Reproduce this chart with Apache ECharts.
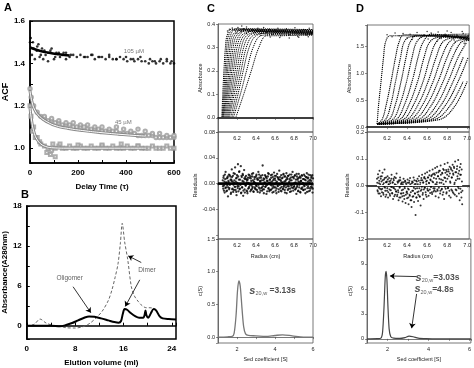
<!DOCTYPE html>
<html><head><meta charset="utf-8">
<script src="https://cdn.jsdelivr.net/npm/echarts@6/dist/echarts.min.js"></script>
<style>html,body{margin:0;padding:0;background:#fff}#c{width:474px;height:368px}</style>
</head><body><div id="c"></div>
<script>
const FONT = '"Liberation Sans", Arial, sans-serif';

// ---------- Panel A : ACF ----------
const delayTimes = [0,15,30,45,60,75,90,105,120,135,150,165,180,195,210,225,240,255,270,285,300,315,330,345,360,375,390,405,420,435,450,465,480,495,510,525,540,555,570,585,600];
const acf105 = [1.50,1.47,1.48,1.44,1.46,1.45,1.47,1.43,1.45,1.44,1.45,1.43,1.44,1.43,1.44,1.43,1.43,1.44,1.42,1.43,1.43,1.42,1.43,1.42,1.42,1.43,1.42,1.41,1.42,1.41,1.42,1.41,1.41,1.40,1.41,1.40,1.41,1.40,1.41,1.40,1.40];
const acf105Extra = [[3,1.52],[8,1.44],[12,1.50],[20,1.42],[28,1.46],[35,1.49],[40,1.43],[50,1.47],[55,1.42],[65,1.44],[75,1.41],[85,1.46],[100,1.42],[110,1.45],[125,1.43],[140,1.45],[150,1.42],[170,1.44],[230,1.43],[260,1.44],[290,1.43],[330,1.44],[360,1.42],[400,1.43],[430,1.42],[460,1.43],[500,1.42],[520,1.41],[545,1.42],[570,1.42],[590,1.41]];
const acf45 = [1.28,1.20,1.17,1.15,1.14,1.13,1.13,1.12,1.12,1.11,1.11,1.11,1.10,1.10,1.10,1.10,1.09,1.09,1.09,1.09,1.08,1.08,1.08,1.08,1.08,1.07,1.07,1.07,1.07,1.07,1.06,1.06,1.06,1.06,1.06,1.05,1.05,1.05,1.05,1.05,1.05];
const acf45Extra = [[5,1.24],[60,1.15],[90,1.14],[120,1.13],[150,1.12],[180,1.12],[210,1.11],[240,1.11],[270,1.10],[300,1.10],[330,1.09],[360,1.10],[390,1.09],[420,1.08],[450,1.09],[480,1.08],[510,1.07],[540,1.07],[570,1.06],[600,1.06]];
const acfLow = [1.20,1.10,1.05,1.02,1.01,1.00,0.99,1.00,1.01,1.00,1.00,1.01,1.00,1.00,1.01,1.00,1.00,1.01,1.00,1.00,1.01,1.00,1.00,1.01,1.00,1.00,1.00,1.01,1.00,1.00,1.01,1.00,1.00,1.00,1.01,1.00,1.00,1.00,1.01,1.00,1.00];
const acfLowExtra = [[4,1.15],[10,1.08],[22,1.05],[40,1.03],[70,0.98],[85,0.97],[95,1.02],[105,0.96],[125,1.02],[200,1.015],[300,1.015],[380,1.02],[450,1.01]];
const fit105 = [[0,1.475],[40,1.46],[80,1.45],[120,1.443],[165,1.437]];
const fit45 = [[0,1.27],[8,1.22],[20,1.18],[40,1.15],[70,1.125],[110,1.105],[160,1.093],[220,1.083],[300,1.073],[400,1.063],[480,1.057]];
const fitLow = [[0,1.19],[8,1.12],[18,1.07],[30,1.04],[45,1.02],[65,1.008],[90,1.002],[150,1.0],[480,1.0]];
const acfLabels = [{text:'105 \u00b5M', at:[433,1.459]},{text:'45 \u00b5M', at:[389,1.12]}];

// ---------- Panel B : elution ----------
const elutionSolid = [[0,0],[2,0],[4,0],[5.5,-0.1],[6.5,0.1],[7.5,0.4],[8.5,0.8],[9.5,1.2],[10.3,1.4],[11.2,1.35],[12.3,1.1],[13.5,0.8],[14.5,0.55],[15.2,0.45],[15.6,0.7],[15.9,1.8],[16.2,2.5],[16.6,2.4],[17.2,1.9],[18,1.4],[18.6,1.2],[19.3,1.2],[19.5,1.6],[19.65,2.3],[19.8,1.6],[20.1,1.2],[20.5,1.8],[21,2.5],[21.4,2.3],[22,1.4],[22.5,1.1],[23.5,1.0],[24.7,0.95]];
const elutionDashed = [[0,0],[1.2,0.2],[2.2,1.0],[3.2,0.4],[4.5,0],[5.5,-0.1],[6.5,-0.3],[8,-0.35],[9.5,-0.1],[10.5,0.4],[11.5,1.2],[12.5,2.2],[13.5,3.8],[14.1,5.4],[14.6,7.2],[15.1,9.3],[15.5,12.5],[15.8,15.4],[16.2,12.6],[16.7,10.0],[17.3,5.9],[17.8,4.5],[18.4,3.7],[19.1,3.0],[19.8,2.7],[20.4,2.7],[21.0,2.6],[21.4,2.4]];
const bLabels = [{text:'Oligomer', at:[7.1,7.1]},{text:'Dimer', at:[19.9,8.3]}];
const bArrows = [[[7.66,5.86],[10.6,1.95]],[[18.7,6.9],[16.3,2.9]],[[18.95,9.5],[16.8,10.5]]];

// ---------- Panel C ----------
const levelsC = [0.005,0.1,0.2,0.3,0.35];
const boundaryC = [
 [6.040,6.050,6.062,6.078,6.095,6.14],
 [6.045,6.060,6.075,6.092,6.110,6.16],
 [6.050,6.070,6.088,6.108,6.130,6.19],
 [6.055,6.080,6.100,6.125,6.150,6.22],
 [6.060,6.090,6.115,6.142,6.172,6.25],
 [6.070,6.100,6.130,6.160,6.195,6.28],
 [6.080,6.112,6.145,6.180,6.220,6.31],
 [6.090,6.125,6.162,6.200,6.245,6.34],
 [6.100,6.140,6.180,6.222,6.272,6.38],
 [6.110,6.155,6.200,6.245,6.300,6.42],
 [6.120,6.170,6.220,6.270,6.330,6.46],
 [6.135,6.190,6.242,6.298,6.365,6.50],
 [6.150,6.210,6.265,6.328,6.400,6.55],
 [6.165,6.235,6.300,6.370,6.450,6.60],
 [6.190,6.270,6.350,6.430,6.510,6.64]
];
const plateauC = [0.378,0.375,0.380,0.372,0.376,0.370,0.374,0.368,0.371,0.365,0.368,0.360,0.362,0.355,0.350];
const endC = [0.372,0.368,0.376,0.365,0.370,0.362,0.374,0.360,0.366,0.358,0.364,0.356,0.360,0.352,0.356];
const noiseC = [[6.12,0.378],[6.15,0.383],[6.18,0.372],[6.21,0.385],[6.24,0.368],[6.27,0.380],[6.30,0.387],[6.33,0.370],[6.36,0.377],[6.39,0.362],[6.42,0.382],[6.45,0.371],[6.48,0.385],[6.51,0.364],[6.54,0.378],[6.57,0.356],[6.60,0.375],[6.63,0.382],[6.66,0.350],[6.69,0.371],[6.72,0.380],[6.75,0.354],[6.78,0.373],[6.81,0.384],[6.84,0.347],[6.87,0.369],[6.90,0.377],[6.93,0.353],[6.96,0.382],[6.99,0.363],[6.55,0.345],[6.65,0.342],[6.75,0.340],[6.85,0.344],[6.95,0.346],[6.45,0.352],[6.30,0.360],[6.20,0.362],[6.10,0.370],[6.25,0.392]];
const residStartC = 6.05, residStartC2 = 6.0525, residStepC = 0.005;
const residC = [5,-8,12,-3,-14,7,18,-6,2,-11,9,-20,4,14,-7,-2,11,-16,6,22,-9,3,-13,16,1,-5,25,-10,8,-18,13,-4,30,-12,6,19,-8,-1,27,-14,10,-6,15,-19,3,21,-9,7,-3,12,-11,5,-15,9,1,-7,13,-2,-12,8,4,-9,11,-5,16,-13,2,7,-8,10,-3,14,-10,6,-1,18,-6,9,-14,3,12,-7,5,-11,28,-4,8,-9,1,13,-5,10,-16,4,-2,11,-8,15,-12,6,2,-10,9,-3,14,-7,5,-13,17,-1,8,-6,12,-15,3,10,-4,7,-9,20,-2,6,-11,13,-5,1,9,-8,15,-3,11,-14,4,-6,16,-1,7,-10,12,-4,3,14,-8,9,-12,5,-2,18,-7,10,-5,1,13,-9,6,-16,11,-3,8,-11,15,-6,2,-13,9,4,-8,12,-1,7,-10,14,-4,6,-15,10,-2,16,-7,3,9,-12,5,-1,13,-8,4,11,-6,-14,8];
const residC2 = [-4,9,-11,3,14,-7,1,-12,8,-3,11,-6,2,-9,13,-1,6,-14,4,10,-8,12,-2,-10,5,15,-5,3,-13,9,1,-7,11,-4,18,-9,6,-2,-15,12,-6,4,13,-11,0,8,-14,10,-3,7,2,-12,6,-8,14,-5,9,-1,11,-10,-3,15,-7,5,-12,3,10,-6,1,-9,12,-4,8,-13,6,-2,14,-8,4,-11,9,-1,-6,13,-9,5,-15,7,2,-5,11,-3,8,-12,4,16,-7,1,-10,6,-2,13,-9,3,-14,10,-4,7,-6,12,5,-11,1,-8,15,-3,9,-13,6,-1,10,-7,4,-12,8,2,-9,14,-5,3,-10,11,-2,6,-15,9,-4,12,-8,1,7,-13,5,-3,14,-6,10,-1,-11,8,-4,12,-9,2,-7,15,-5,6,-12,3,9,-2,11,-14,4,-8,13,-6,1,-10,7,-3,12,-9,5,-1,10,-13,8,-4,14,-7,2,-11,6,-5,9,-2,13,-8,3];
const cSC = [[1.0,0.0],[1.5,0.005],[1.75,0.01],[1.85,0.06],[1.95,0.33],[2.03,0.72],[2.1,0.86],[2.17,0.78],[2.26,0.45],[2.35,0.16],[2.45,0.05],[2.6,0.025],[3.0,0.02],[3.5,0.01],[4.0,0.025],[4.4,0.035],[4.9,0.02],[5.5,0.0],[6.0,0.0]];
const cLabels = [{main:'3.13s', at:[3.87,0.71]}];

// ---------- Panel D ----------
const levelsD = [0.06,0.14,0.4,0.85,1.3,1.58];
const boundaryD = [
 [6.100,6.104,6.115,6.140,6.165,6.185,6.23],
 [6.100,6.150,6.190,6.240,6.285,6.320,6.37],
 [6.100,6.185,6.235,6.285,6.335,6.370,6.43],
 [6.100,6.220,6.280,6.340,6.390,6.430,6.50],
 [6.100,6.255,6.325,6.395,6.450,6.495,6.57],
 [6.100,6.290,6.370,6.450,6.510,6.560,6.64],
 [6.100,6.325,6.415,6.505,6.570,6.625,6.71],
 [6.100,6.360,6.460,6.560,6.630,6.690,6.78],
 [6.100,6.395,6.505,6.610,6.690,6.755,6.85],
 [6.100,6.430,6.550,6.660,6.745,6.820,6.92],
 [6.100,6.470,6.595,6.710,6.800,6.880,6.98],
 [6.100,6.510,6.640,6.760,6.855,6.940,7.02],
 [6.100,6.550,6.690,6.810,6.910,6.995],
 [6.100,6.590,6.735,6.860,6.960],
 [6.100,6.630,6.780,6.910,7.010],
 [6.100,6.670,6.830,6.960],
 [6.100,6.720,6.880,7.000]
];
const plateauD = [1.70,1.72,1.68,1.71,1.69,1.73,1.67,1.70,1.66,1.68,1.64,1.62];
const endD = [1.69,1.66,1.73,1.64,1.70,1.62,1.68,1.65,1.67,1.63,1.65,1.63];
const noiseD = [[6.20,1.72],[6.25,1.68],[6.28,1.75],[6.32,1.70],[6.36,1.74],[6.40,1.66],[6.43,1.73],[6.47,1.69],[6.50,1.76],[6.54,1.67],[6.57,1.72],[6.61,1.64],[6.64,1.75],[6.68,1.70],[6.71,1.77],[6.74,1.65],[6.78,1.73],[6.81,1.68],[6.84,1.76],[6.87,1.62],[6.90,1.71],[6.93,1.66],[6.96,1.74],[6.99,1.63],[7.01,1.70],[6.60,1.78],[6.80,1.79],[6.95,1.78],[6.45,1.63],[6.70,1.60],[6.88,1.58],[6.97,1.56]];
const residStartD = 6.10, residStartD2 = 6.1025, residStepD = 0.005;
const residD = [25,-18,42,-30,8,55,-12,34,-40,15,-25,48,3,-35,22,60,-8,-42,30,12,-20,35,-45,5,28,-15,-38,18,-5,40,-28,10,-50,25,-10,32,-35,2,-22,45,-40,15,-18,-55,20,-8,30,-45,5,-30,12,-60,-15,25,-38,-5,18,-65,8,-25,-48,22,-12,-70,10,-35,28,-55,-2,-80,15,-42,-20,30,-62,5,-30,-110,18,-45,-10,25,-58,-22,35,-40,2,-75,20,-15,40,-35,10,-50,28,-8,45,-25,15,-42,50,-18,30,-38,8,55,-28,20,-5,38,-32,60,12,-22,45,-10,65,-40,25,5,70,-20,35,-45,55,10,-30,75,22,-15,48,-35,62,5,-50,80,28,-12,58,-25,40,85,-8,52,-38,70,15,-45,60,30,-20,78,45,-30,65,10,90,-15,50,-40,72,25,95,-10,55,-55,40,80,-25,60,-70];
const residD2 = [10,-22,30,-8,18,-30,5,25,-15,35,-12,20,-28,8,-5,28,-20,12,-35,15,-10,22,-25,3,15,-32,8,-18,25,-6,-30,12,-8,20,-40,5,-15,28,-22,0,-35,10,-25,15,-45,-5,20,-30,8,-18,-40,5,-28,12,-50,-10,15,-35,2,-22,-30,10,-45,-15,18,-38,5,-25,-55,8,-20,12,-40,-8,20,-30,-12,6,-45,15,-25,5,-35,18,-10,-42,10,-20,28,-5,20,-28,12,-15,32,-8,25,-35,5,18,-12,30,-20,10,38,-15,22,-5,35,-25,15,42,-10,28,-18,40,5,-22,48,12,-15,35,50,-8,25,55,-20,40,10,-12,45,20,-25,58,30,-5,48,15,-30,52,25,-10,60,35,-20,45,10,65,-15,30,55,-25,40,70,5,-35,50,20,-18,62,35,-5,45,-30,25,68,-12,40,-45,15,-20];
const cSD = [[1.0,0.0],[1.5,0.02],[1.68,0.08],[1.76,0.8],[1.83,3.8],[1.89,7.4],[1.93,8.1],[1.97,7.2],[2.02,4.0],[2.08,1.2],[2.16,0.25],[2.3,0.08],[2.6,0.05],[2.85,0.15],[3.05,0.32],[3.25,0.25],[3.5,0.08],[3.9,0.02],[4.5,0.0],[6.07,0.0]];
const dLabels = [{main:'3.03s', at:[4.44,7.36]},{main:'4.8s', at:[4.27,5.96]}];
const dArrows = [[[3.42,7.48],[2.12,7.56]],[[3.42,5.4],[3.18,1.28]]];

// ---------- helpers ----------
function fmt(step, dec, lo, hi) {
  return function (v) {
    const r = v / step, k = Math.round(r);
    if (Math.abs(r - k) > 1e-4) return '';
    if (lo != null && v < lo) return '';
    if (hi != null && v > hi) return '';
    return (k * step).toFixed(dec);
  };
}
const bigLbl = {fontSize:8, fontWeight:'bold', color:'#000', fontFamily:FONT};
const bigName = {fontSize:8, fontWeight:'bold', color:'#000', fontFamily:FONT};
const smLbl = {fontSize:5.5, color:'#222', fontFamily:FONT, margin:3};
const smName = {fontSize:5.5, color:'#222', fontFamily:FONT};
const noSplit = {show:false};
const CLEAR = 'rgba(0,0,0,0)';

const grids = [
  {left:23,top:21,width:151,height:142, show:true, borderColor:'#000', borderWidth:1.5},
  {left:23,top:206,width:153,height:137, show:true, borderColor:'#000', borderWidth:1.5},
  {left:218,top:24,width:95,height:108, show:true, borderColor:'#555', borderWidth:0.8},
  {left:218,top:132,width:95,height:107, show:true, borderColor:'#555', borderWidth:0.8},
  {left:218,top:239,width:95,height:104, show:true, borderColor:'#555', borderWidth:0.8},
  {left:367,top:25,width:104,height:107, show:true, borderColor:'#555', borderWidth:0.8},
  {left:367,top:132,width:104,height:107, show:true, borderColor:'#555', borderWidth:0.8},
  {left:367,top:239,width:104,height:104, show:true, borderColor:'#555', borderWidth:0.8}
];

function bigAxisX(gi, min, max, interval, step, name, gap) {
  return {gridIndex:gi, type:'value', min, max, interval,
    axisLine:{lineStyle:{color:'#000', width:1.5}},
    axisTick:{inside:true, length:3, lineStyle:{color:'#000'}},
    axisLabel:Object.assign({formatter:fmt(step,0,null,null), margin:6}, bigLbl),
    splitLine:noSplit, name, nameLocation:'middle', nameGap:gap, nameTextStyle:bigName};
}
function smallX(gi, min, max, interval, step, dec, lo, hi, lineW, name) {
  return {gridIndex:gi, type:'value', min, max, interval,
    axisLine:{lineStyle:{color:lineW > 1 ? '#000' : '#555', width:lineW}},
    axisTick:{length:2, lineStyle:{color:'#444', width:0.6}},
    axisLabel:Object.assign({formatter:fmt(step,dec,lo,hi)}, smLbl),
    splitLine:noSplit, name:name || '', nameLocation:'middle', nameGap:13, nameTextStyle:smName};
}
function smallY(gi, min, max, step, dec, lo, name, gap) {
  return {gridIndex:gi, type:'value', min, max, minInterval:step, maxInterval:step,
    axisLine:{lineStyle:{color:'#555', width:0.8}},
    axisTick:{length:2, lineStyle:{color:'#444', width:0.6}},
    axisLabel:Object.assign({formatter:fmt(step,dec,lo,null)}, smLbl),
    splitLine:noSplit, name, nameLocation:'middle', nameGap:gap, nameTextStyle:smName};
}

const xAxes = [
  bigAxisX(0, 0, 600, 100, 200, 'Delay Time (\u03c4)', 20),
  bigAxisX(1, 0, 24.7, 4, 8, 'Elution volume (ml)', 20),
  smallX(2, 6.0, 7.0, 0.2, 0.2, 1, 6.1, null, 1.6),
  Object.assign(smallX(3, 6.0, 7.0, 0.2, 0.2, 1, 6.1, null, 1.6, 'Radius (cm)'), {nameGap:14}),
  smallX(4, 1, 6, 1, 2, 0, null, null, 0.8, 'Sed coefficient [S]'),
  smallX(5, 6.0, 7.02, 0.2, 0.2, 1, 6.1, 7.01, 1.6),
  Object.assign(smallX(6, 6.0, 7.02, 0.2, 0.2, 1, 6.1, 7.01, 1.6, 'Radius (cm)'), {nameGap:14}),
  smallX(7, 1, 6.07, 1, 2, 0, null, 6.01, 0.8, 'Sed coefficient [S]')
];
const yAxes = [
  {gridIndex:0, type:'value', min:0.93, max:1.6, minInterval:0.1, maxInterval:0.1,
   axisLine:{lineStyle:{color:'#000', width:1.5}}, axisTick:{inside:true, length:3, lineStyle:{color:'#000'}},
   axisLabel:Object.assign({formatter:fmt(0.2,1,0.99,null), margin:5}, bigLbl), splitLine:noSplit,
   name:'ACF', nameLocation:'middle', nameGap:13, nameTextStyle:Object.assign({}, bigName, {fontSize:9})},
  {gridIndex:1, type:'value', min:-2, max:18, minInterval:3, maxInterval:3,
   axisLine:{lineStyle:{color:'#000', width:1.5}}, axisTick:{inside:true, length:3, lineStyle:{color:'#000'}},
   axisLabel:Object.assign({formatter:fmt(6,0,-0.5,null), margin:5}, bigLbl), splitLine:noSplit,
   name:'Absorbance(A280nm)', nameLocation:'middle', nameGap:11, nameTextStyle:bigName},
  smallY(2, -0.06, 0.4, 0.1, 1, -0.01, 'Absorbance', 15),
  smallY(3, -0.086, 0.08, 0.04, 2, -0.05, 'Residuals', 17),
  smallY(4, -0.09, 1.5, 0.5, 1, -0.01, 'c(S)', 13),
  smallY(5, -0.09, 1.9, 0.5, 1, -0.01, 'Absorbance', 15),
  smallY(6, -0.2, 0.2, 0.1, 1, -0.15, 'Residuals', 15),
  smallY(7, -0.5, 12, 3, 0, -0.1, 'c(S)', 11)
];

const series = [];
function ax(i) { return {xAxisIndex:i, yAxisIndex:i}; }
function textSeries(gi, items, style) {
  return Object.assign({type:'scatter', symbolSize:1, itemStyle:{color:CLEAR}, silent:true, z:10,
    data:items.map(t => ({value:t.at, label:Object.assign({show:true, position:'inside', formatter:t.text}, style)}))}, ax(gi));
}
function arrowMark(arrows, size) {
  return {silent:true, symbol:['none','arrow'], symbolSize:size, label:{show:false},
    lineStyle:{color:'#000', width:0.8, type:'solid'},
    data:arrows.map(a => [{coord:a[0]}, {coord:a[1]}])};
}
function residSeries(gi, vals, start, step, size) {
  return Object.assign({type:'scatter', symbolSize:size, itemStyle:{color:'#000'},
    data:vals.map((r,i) => [start + step*i, r/1000])}, ax(gi));
}

// Panel A
series.push(Object.assign({type:'scatter', symbol:'emptyCircle', symbolSize:3.4, itemStyle:{color:'#9a9a9a', borderWidth:0.7},
  data:delayTimes.map((t,i) => [t, acf45[i]]).concat(acf45Extra)}, ax(0)));
series.push(Object.assign({type:'scatter', symbol:'emptyRect', symbolSize:3.0, itemStyle:{color:'#9a9a9a', borderWidth:0.7},
  data:delayTimes.map((t,i) => [t, acfLow[i]]).concat(acfLowExtra)}, ax(0)));
[fit45, fitLow].forEach(f => {
  series.push(Object.assign({type:'line', data:f, smooth:true, symbol:'none', lineStyle:{color:'#8a8a8a', width:3}}, ax(0)));
  series.push(Object.assign({type:'line', data:f, smooth:true, symbol:'none', lineStyle:{color:'#fff', width:1}}, ax(0)));
});
series.push(Object.assign({type:'scatter', symbolSize:2.6, itemStyle:{color:'#000'},
  data:delayTimes.map((t,i) => [t, acf105[i]]).concat(acf105Extra)}, ax(0)));
series.push(Object.assign({type:'line', data:fit105, smooth:true, symbol:'none', lineStyle:{color:'#000', width:2.5}}, ax(0)));
series.push(textSeries(0, acfLabels, {fontSize:6, color:'#555', fontFamily:FONT}));

// Panel B
series.push(Object.assign({type:'line', data:elutionDashed, smooth:0.3, symbol:'none', lineStyle:{color:'#666', width:1, type:[3,2]}}, ax(1)));
series.push(Object.assign({type:'line', data:elutionSolid, smooth:0.3, symbol:'none', lineStyle:{color:'#000', width:2}}, ax(1)));
const bt = textSeries(1, bLabels, {fontSize:6.5, color:'#333', fontFamily:FONT});
bt.markLine = arrowMark(bArrows, 5);
series.push(bt);

// Panel C
boundaryC.forEach((xs, k) => {
  const d = levelsC.map((y, i) => [xs[i], y]);
  d.push([xs[5], plateauC[k]]); d.push([7.0, endC[k]]);
  series.push(Object.assign({type:'line', data:d, smooth:0.35, symbol:'none', lineStyle:{color:'#000', width:1, type:[1.2,0.9]}}, ax(2)));
});
series.push(Object.assign({type:'scatter', data:noiseC, symbolSize:1.5, itemStyle:{color:'#000'}}, ax(2)));
series.push(Object.assign({type:'line', data:[[6.0,0],[7.0,0]], symbol:'none', lineStyle:{color:'#000', width:2.5}}, ax(3)));
series.push(residSeries(3, residC, residStartC, residStepC, 2.3));
series.push(residSeries(3, residC2, residStartC2, residStepC, 2.3));
series.push(Object.assign({type:'line', data:cSC, smooth:0.3, symbol:'none', lineStyle:{color:'#777', width:1.3}}, ax(4)));

const richS = {
  s:{fontSize:11, fontStyle:'italic', fontWeight:'bold', color:'#222', fontFamily:FONT},
  sub:{fontSize:5.5, color:'#333', fontFamily:FONT, padding:[6,0,0,0]},
  v:{fontSize:8.5, fontWeight:'bold', color:'#222', fontFamily:FONT}
};
function sText(gi, items, sep) {
  return textSeries(gi, items.map(t => ({at:t.at, text:'{s|s}{sub|20,w}{v|' + sep + t.main + '}'})), {rich:richS});
}
series.push(sText(4, cLabels, ' ='));

// Panel D
boundaryD.forEach((xs, k) => {
  const d = xs.map((x, i) => [x, i < 6 ? levelsD[i] : plateauD[k]]);
  if (xs.length === 7) d.push([7.02, endD[k]]);
  series.push(Object.assign({type:'line', data:d, smooth:0.35, symbol:'none', lineStyle:{color:'#000', width:1.1, type:[1.2,0.8]}}, ax(5)));
});
series.push(Object.assign({type:'scatter', data:noiseD, symbolSize:1.5, itemStyle:{color:'#000'}}, ax(5)));
series.push(residSeries(6, residD, residStartD, residStepD, 2));
series.push(residSeries(6, residD2, residStartD2, residStepD, 2));
series.push(Object.assign({type:'line', data:[[6.1,0],[6.95,0]], symbol:'none', lineStyle:{color:'#fff', width:1.2}, z:5}, ax(6)));
series.push(Object.assign({type:'line', data:cSD, smooth:0.25, symbol:'none', lineStyle:{color:'#444', width:1.2}}, ax(7)));
const dt = sText(7, dLabels, '=');
dt.markLine = arrowMark(dArrows, 5);
series.push(dt);

const letters = [['A',4,2],['B',21,189],['C',207,3],['D',356,3]];
const chart = echarts.init(document.getElementById('c'), null, {renderer:'canvas'});
chart.setOption({
  animation:false,
  backgroundColor:'#fff',
  grid:grids, xAxis:xAxes, yAxis:yAxes, series,
  graphic:letters.map(l => ({type:'text', left:l[1], top:l[2],
    style:{text:l[0], fontSize:11, fontWeight:'bold', fill:'#000', fontFamily:FONT}}))
});
</script></body></html>
